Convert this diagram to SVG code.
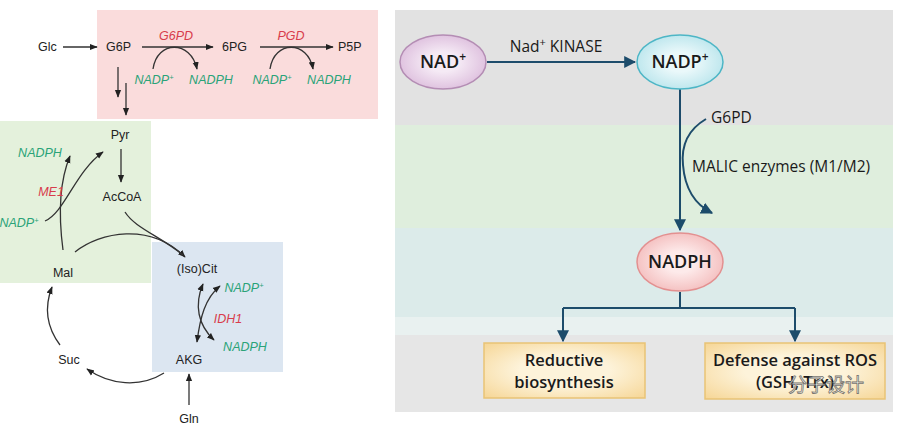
<svg xmlns="http://www.w3.org/2000/svg" width="900" height="428" viewBox="0 0 900 428">
<defs>
<style>
.t{font-family:"Liberation Sans",Arial,sans-serif;font-size:12.5px;fill:#222}
.g{font-family:"Liberation Sans",Arial,sans-serif;font-size:12.5px;font-style:italic;fill:#2aa378}
.r{font-family:"Liberation Sans",Arial,sans-serif;font-size:12.5px;font-style:italic;fill:#d83c4c}
.ln{fill:none;stroke:#333;stroke-width:1.3}
.nv{fill:none;stroke:#1d4c6b;stroke-width:2}
.rt{font-family:"Open Sans","DejaVu Sans",sans-serif;fill:#1a1a1a}
.nd{font-size:18px;font-weight:600}
.lb{font-size:15.5px;font-weight:500}
.bx{font-size:16.5px;font-weight:600}
</style>
<marker id="ah" viewBox="0 0 10 10" refX="9" refY="5" markerWidth="6" markerHeight="6" orient="auto-start-reverse"><path d="M0,1 L10,5 L0,9 z" fill="#222"/></marker>
<marker id="an" viewBox="0 0 10 10" refX="9" refY="5" markerWidth="6" markerHeight="6" orient="auto"><path d="M0,0 L10,5 L0,10 z" fill="#1d4c6b"/></marker>
<radialGradient id="gNad" cx="0.5" cy="0.5" r="0.6"><stop offset="0.3" stop-color="#f5eaf5"/><stop offset="1" stop-color="#d9b7d9"/></radialGradient>
<radialGradient id="gNadp" cx="0.5" cy="0.5" r="0.6"><stop offset="0.3" stop-color="#eaf8fa"/><stop offset="1" stop-color="#b2e2ea"/></radialGradient>
<radialGradient id="gNadph" cx="0.5" cy="0.5" r="0.6"><stop offset="0.3" stop-color="#fdeaea"/><stop offset="1" stop-color="#f2b6b6"/></radialGradient>
<radialGradient id="gBox" cx="0.5" cy="0.5" r="0.7"><stop offset="0.4" stop-color="#fdf3da"/><stop offset="1" stop-color="#f6d696"/></radialGradient>
</defs>

<rect x="0" y="0" width="900" height="428" fill="#ffffff"/>
<rect x="97" y="10" width="281" height="109" fill="#fadcdc"/>
<rect x="0" y="121" width="151" height="162" fill="#e4f1dc"/>
<rect x="152" y="242" width="131" height="130" fill="#dce6f1"/>

<g id="connectors-left">
<path class="ln" d="M63,47 L97,47" marker-end="url(#ah)"/>
<path class="ln" d="M142,47 L213,47" marker-end="url(#ah)"/>
<path class="ln" d="M260,47 L333,47" marker-end="url(#ah)"/>
<path class="ln" d="M153,69 C157,40 191,40 197,69" marker-end="url(#ah)"/>
<path class="ln" d="M270,69 C274,40 308,40 313,69" marker-end="url(#ah)"/>
<path class="ln" d="M118,67 L118,97" marker-end="url(#ah)"/>
<path class="ln" d="M126,83 L126,115" marker-end="url(#ah)"/>
<path class="ln" d="M121,149 L121,182" marker-end="url(#ah)"/>
<path class="ln" d="M45,221 C65,212 75,172 103,152" marker-end="url(#ah)"/>
<path class="ln" d="M63,250 C58,212 60,180 70,156" marker-end="url(#ah)"/>
<path class="ln" d="M75,252 C100,232 150,222 185,257" marker-end="url(#ah)"/>
<path class="ln" d="M125,212 C135,228 160,236 183,255"/>
<path class="ln" d="M60,345 C45,325 45,305 52,287" marker-end="url(#ah)"/>
<path class="ln" d="M164,373 C140,388 110,385 87,369" marker-end="url(#ah)"/>
<path class="ln" d="M189,405 L189,374" marker-end="url(#ah)"/>
<path class="ln" d="M203,284 C194,305 198,325 214,340" marker-start="url(#ah)" marker-end="url(#ah)"/>
<path class="ln" d="M220,286 C205,298 200,318 197,342" marker-start="url(#ah)" marker-end="url(#ah)"/>
</g>

<g id="n-glc"><text class="t" x="38" y="51">Glc</text></g>
<g id="n-g6p"><text class="t" x="106" y="51">G6P</text></g>
<g id="n-6pg"><text class="t" x="222" y="51">6PG</text></g>
<g id="n-p5p"><text class="t" x="338" y="51">P5P</text></g>
<g id="l-g6pd"><text class="r" x="176" y="40" text-anchor="middle">G6PD</text></g>
<g id="l-pgd"><text class="r" x="291" y="40" text-anchor="middle">PGD</text></g>
<g id="l-nadp1"><text class="g" x="154" y="84" text-anchor="middle">NADP<tspan font-size="7.5" dy="-4">+</tspan></text></g>
<g id="l-nadph1"><text class="g" x="211" y="84" text-anchor="middle">NADPH</text></g>
<g id="l-nadp2"><text class="g" x="272" y="84" text-anchor="middle">NADP<tspan font-size="7.5" dy="-4">+</tspan></text></g>
<g id="l-nadph2"><text class="g" x="329" y="84" text-anchor="middle">NADPH</text></g>
<g id="n-pyr"><text class="t" x="120" y="139" text-anchor="middle">Pyr</text></g>
<g id="n-accoa"><text class="t" x="122" y="201" text-anchor="middle">AcCoA</text></g>
<g id="l-nadph3"><text class="g" x="40" y="157" text-anchor="middle">NADPH</text></g>
<g id="l-me1"><text class="r" x="51" y="196" text-anchor="middle">ME1</text></g>
<g id="l-nadp3"><text class="g" x="19" y="227" text-anchor="middle">NADP<tspan font-size="7.5" dy="-4">+</tspan></text></g>
<g id="n-mal"><text class="t" x="63" y="277" text-anchor="middle">Mal</text></g>
<g id="n-isocit"><text class="t" x="197" y="273" text-anchor="middle">(Iso)Cit</text></g>
<g id="l-nadp4"><text class="g" x="244" y="292" text-anchor="middle">NADP<tspan font-size="7.5" dy="-4">+</tspan></text></g>
<g id="l-idh1"><text class="r" x="228" y="323" text-anchor="middle">IDH1</text></g>
<g id="l-nadph4"><text class="g" x="245" y="351" text-anchor="middle">NADPH</text></g>
<g id="n-akg"><text class="t" x="189" y="364" text-anchor="middle">AKG</text></g>
<g id="n-suc"><text class="t" x="69" y="364" text-anchor="middle">Suc</text></g>
<g id="n-gln"><text class="t" x="189" y="423" text-anchor="middle">Gln</text></g>

<rect x="395" y="10" width="498" height="115" fill="#e2e2e2"/>
<rect x="395" y="125" width="498" height="103" fill="#dfeedd"/>
<rect x="395" y="228" width="498" height="89" fill="#dcebea"/>
<rect x="395" y="317" width="498" height="18" fill="#e9f1f0"/>
<rect x="395" y="335" width="498" height="77" fill="#e6e6e6"/>

<g id="connectors-right">
<path class="nv" d="M487,62 L635,62" marker-end="url(#an)"/>
<path class="nv" d="M680,89 L680,230" marker-end="url(#an)"/>
<path class="nv" d="M706,119 C689,129 681,145 683,165 C685,190 696,205 712,213" marker-end="url(#an)"/>
<path class="nv" d="M680,292 L680,308 M563,308 L795,308"/>
<path class="nv" d="M563,308 L563,341" marker-end="url(#an)"/>
<path class="nv" d="M795,308 L795,341" marker-end="url(#an)"/>
</g>

<g id="n-nad">
<ellipse cx="443" cy="62" rx="43" ry="27" fill="url(#gNad)" stroke="#b48db4" stroke-width="1.5"/>
<text class="rt nd" x="443" y="68" text-anchor="middle">NAD<tspan font-size="12" dy="-7">+</tspan></text>
</g>
<g id="l-kinase"><text class="rt lb" x="556" y="52" text-anchor="middle">Nad<tspan font-size="11" dy="-6">+</tspan><tspan dy="6"> KINASE</tspan></text></g>
<g id="n-nadp">
<ellipse cx="680" cy="62" rx="43" ry="27" fill="url(#gNadp)" stroke="#4db6c6" stroke-width="1.5"/>
<text class="rt nd" x="680" y="68" text-anchor="middle">NADP<tspan font-size="12" dy="-7">+</tspan></text>
</g>
<g id="l-g6pd-r"><text class="rt lb" x="711" y="123">G6PD</text></g>
<g id="l-malic"><text class="rt lb" x="692" y="172">MALIC enzymes (M1/M2)</text></g>
<g id="n-nadph">
<ellipse cx="680" cy="262" rx="43" ry="29" fill="url(#gNadph)" stroke="#e39090" stroke-width="1.5"/>
<text class="rt nd" x="680" y="268" text-anchor="middle">NADPH</text>
</g>
<g id="n-reductive">
<rect x="484" y="343" width="161" height="55" fill="url(#gBox)" stroke="#e9c376" stroke-width="1.5"/>
<text class="rt bx" x="564" y="366" text-anchor="middle">Reductive</text>
<text class="rt bx" x="564" y="388" text-anchor="middle">biosynthesis</text>
</g>
<g id="n-defense">
<rect x="705" y="343" width="180" height="56" fill="url(#gBox)" stroke="#e9c376" stroke-width="1.5"/>
<text class="rt bx" x="795" y="366" text-anchor="middle">Defense against ROS</text>
<text class="rt bx" x="795" y="388" text-anchor="middle">(GSH, Trx)</text>
</g>
<g id="watermark" opacity="0.8">
<text x="788" y="392" font-family="'Noto Sans CJK SC',sans-serif" font-size="19" fill="#ffffff" stroke="#555" stroke-width="0.8">分子设计</text>
</g>
</svg>
